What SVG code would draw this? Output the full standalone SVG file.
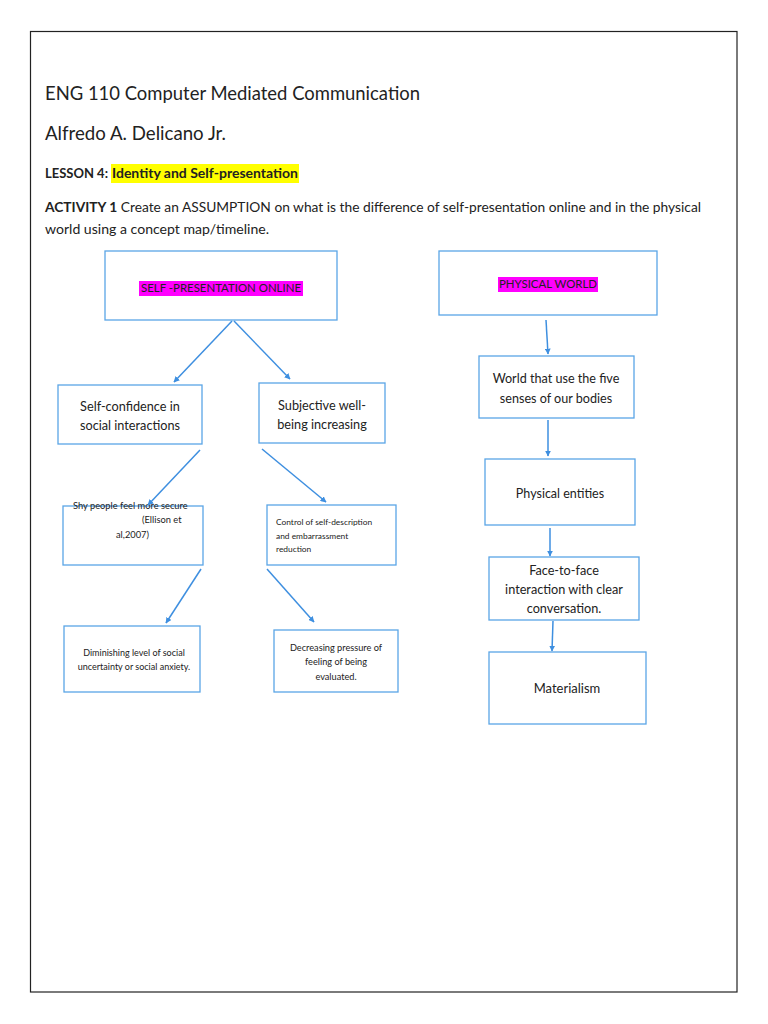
<svg xmlns="http://www.w3.org/2000/svg" width="768" height="1024" viewBox="0 0 768 1024">
<defs>
<style>
text{font-family:Lato,"Open Sans","Liberation Sans",sans-serif;fill:#222}
.box{fill:#fff;stroke:#5aa5e6;stroke-width:1.3}
.c{text-anchor:middle}
.con line{stroke:#3e8fe0;stroke-width:1.5;marker-end:url(#ah)}
</style>
<marker id="ah" viewBox="0 0 10 10" refX="9" refY="5" markerWidth="6" markerHeight="6" orient="auto" markerUnits="userSpaceOnUse">
<path d="M0,0 L10,5 L0,10 z" fill="#3e8fe0"/>
</marker>
</defs>
<rect width="768" height="1024" fill="#fff"/>
<rect x="30.5" y="31.5" width="706.5" height="960.5" fill="none" stroke="#222" stroke-width="1.2"/>

<g id="header">
<text x="45" y="100" font-size="19" textLength="375" lengthAdjust="spacingAndGlyphs">ENG 110 Computer Mediated Communication</text>
<text x="45" y="140" font-size="19" textLength="181" lengthAdjust="spacingAndGlyphs">Alfredo A. Delicano Jr.</text>
<rect x="111" y="164" width="188" height="19" fill="#ffff00"/>
<text x="45" y="178" font-size="14" font-weight="bold" textLength="63" lengthAdjust="spacingAndGlyphs">LESSON 4:</text>
<text x="112" y="178" font-size="14" font-weight="bold" textLength="186" lengthAdjust="spacingAndGlyphs">Identity and Self-presentation</text>
<text x="45" y="212" font-size="14" textLength="656" lengthAdjust="spacingAndGlyphs"><tspan font-weight="bold">ACTIVITY 1</tspan> Create an ASSUMPTION on what is the difference of self-presentation online and in the physical</text>
<text x="45" y="234" font-size="14" textLength="224" lengthAdjust="spacingAndGlyphs">world using a concept map/timeline.</text>
</g>

<g id="n-online">
<rect class="box" x="105" y="251" width="232" height="69"/>
<rect x="139" y="281" width="164" height="15" fill="#ff00ff"/>
<text class="c" x="221" y="292" font-size="12" textLength="160" lengthAdjust="spacingAndGlyphs">SELF -PRESENTATION ONLINE</text>
</g>
<g id="n-physical">
<rect class="box" x="439" y="251" width="218" height="64"/>
<rect x="498" y="277" width="100" height="15" fill="#ff00ff"/>
<text class="c" x="548" y="288" font-size="12" textLength="98" lengthAdjust="spacingAndGlyphs">PHYSICAL WORLD</text>
</g>
<g id="n-confidence">
<rect class="box" x="58" y="385" width="144" height="59"/>
<text class="c" x="130" y="411" font-size="12.7">Self-confidence in</text>
<text class="c" x="130" y="430" font-size="12.7">social interactions</text>
</g>
<g id="n-wellbeing">
<rect class="box" x="259" y="383" width="126" height="60"/>
<text class="c" x="322" y="410" font-size="12.7">Subjective well-</text>
<text class="c" x="322" y="429" font-size="12.7">being increasing</text>
</g>
<g id="n-shy">
<rect class="box" x="63" y="506" width="140" height="59"/>
<text x="73" y="509" font-size="9.3">Shy people feel more secure</text>
<text x="142" y="523" font-size="9.3">(Ellison et</text>
<text x="116" y="538" font-size="9.3">al,2007)</text>
</g>
<g id="n-control">
<rect class="box" x="267" y="505" width="129" height="60"/>
<text x="276" y="525" font-size="8.4">Control of self-description</text>
<text x="276" y="539" font-size="8.4">and embarrassment</text>
<text x="276" y="552" font-size="8.4">reduction</text>
</g>
<g id="n-diminishing">
<rect class="box" x="64" y="626" width="136" height="66"/>
<text class="c" x="134" y="656" font-size="9">Diminishing level of social</text>
<text class="c" x="134" y="670" font-size="9">uncertainty or social anxiety.</text>
</g>
<g id="n-decreasing">
<rect class="box" x="274" y="630" width="124" height="62"/>
<text class="c" x="336" y="651" font-size="9.2">Decreasing pressure of</text>
<text class="c" x="336" y="665" font-size="9.2">feeling of being</text>
<text class="c" x="336" y="680" font-size="9.2">evaluated.</text>
</g>
<g id="n-senses">
<rect class="box" x="479" y="356" width="155" height="62"/>
<text class="c" x="556" y="383" font-size="12.6">World that use the five</text>
<text class="c" x="556" y="403" font-size="12.6">senses of our bodies</text>
</g>
<g id="n-entities">
<rect class="box" x="485" y="459" width="150" height="66"/>
<text class="c" x="560" y="498" font-size="12.5">Physical entities</text>
</g>
<g id="n-face">
<rect class="box" x="489" y="557" width="150" height="63"/>
<text class="c" x="564" y="575" font-size="12.7">Face-to-face</text>
<text class="c" x="564" y="594" font-size="12.7">interaction with clear</text>
<text class="c" x="564" y="613" font-size="12.7">conversation.</text>
</g>
<g id="n-materialism">
<rect class="box" x="489" y="652" width="157" height="72"/>
<text class="c" x="567" y="693" font-size="13">Materialism</text>
</g>

<g id="connectors" class="con">
<line x1="232" y1="321" x2="174" y2="382"/>
<line x1="234" y1="321" x2="290" y2="379"/>
<line x1="200" y1="450" x2="148" y2="505"/>
<line x1="262" y1="449" x2="326" y2="502"/>
<line x1="201" y1="569" x2="166" y2="623"/>
<line x1="267" y1="569" x2="314" y2="622"/>
<line x1="546" y1="320" x2="548" y2="354"/>
<line x1="548" y1="420" x2="548" y2="456"/>
<line x1="550" y1="528" x2="550" y2="556"/>
<line x1="553" y1="621" x2="552" y2="651"/>
</g>
</svg>
